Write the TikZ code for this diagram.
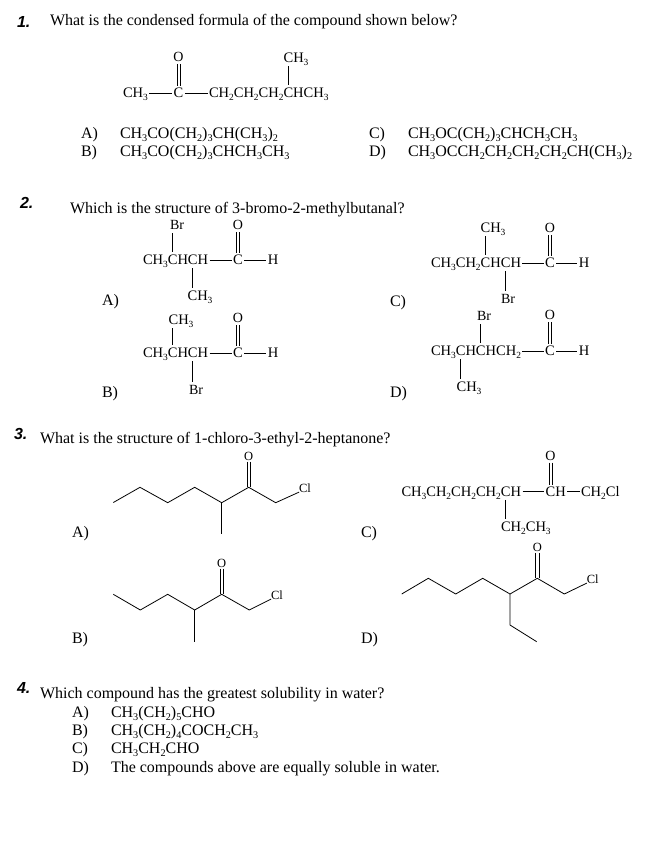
\documentclass[tikz,border=0pt]{standalone}
\usepackage{fontspec}
\setmainfont{Liberation Serif}
\newfontfamily\handfont{Liberation Sans}
\newcommand\su[1]{\raisebox{-0.2em}{\fontsize{10.2}{11}\selectfont #1}}
\newcommand\sv[1]{\raisebox{-0.2em}{\fontsize{9.4}{10}\selectfont #1}}
\newcommand\dbond[2]{\draw[db] ([xshift=-1.6pt]#1.south) -- ([xshift=-1.6pt]#2.north);\draw[db] ([xshift=1.6pt]#1.south) -- ([xshift=1.6pt]#2.north);}
\newcommand\sdbond[2]{\draw[skd] ([xshift=-1.6pt]#1.south) -- ([xshift=-1.6pt]#2);\draw[skd] ([xshift=1.6pt]#1.south) -- ([xshift=1.6pt]#2);}
\tikzset{
  txt/.style={anchor=base west,inner sep=0pt,outer sep=0pt,font=\fontsize{16}{18}\selectfont},
  num/.style={anchor=base west,inner sep=0pt,outer sep=0pt,font=\fontsize{16}{18}\selectfont\handfont\bfseries\itshape},
  atom/.style={inner sep=0pt,outer sep=0pt,text height=9.4pt,text depth=0pt,font=\fontsize{14.5}{16}\selectfont},
  mid/.style={inner sep=0pt,outer sep=0pt,text height=9pt,text depth=0pt,font=\fontsize{14}{16}\selectfont},
  small/.style={inner sep=0pt,outer sep=0pt,text height=8.2pt,text depth=0pt,font=\fontsize{12.5}{14}\selectfont},
  hb/.style={line width=0.8pt,shorten <=1.5pt,shorten >=1.5pt},
  vb/.style={line width=0.8pt,shorten <=3.5pt,shorten >=3.5pt},
  db/.style={line width=0.8pt,shorten <=2.5pt,shorten >=2pt},
  sk/.style={line width=0.8pt,line join=miter},
  skd/.style={line width=0.8pt,shorten <=1.5pt}
}
\begin{document}
\begin{tikzpicture}[x=1pt,y=-1pt]
\useasboundingbox (0,0) rectangle (655,851);
% ---- Question 1
\node[num] (n1) at (17,28) {1.};
\node[txt] (t1) at (50,26) {What is the condensed formula of the compound shown below?};
\node[atom,anchor=west] (a1) at (123,93) {CH\sv{3}};
\node[atom] (a2) at (178.5,93) {C};
\node[atom,anchor=west] (a3) at (209,93) {CH\sv{2}CH\sv{2}CH\sv{2}};
\node[atom,anchor=west] (a4) at (a3.east) {C};
\node[atom,anchor=west] (a5) at (a4.east) {HCH\sv{3}};
\node[mid] (a6) at (178.5,57) {O};
\node[atom] (a7) at (296,58) {CH\sv{3}};
\draw[hb] (a1.east) -- (a2.west);
\draw[hb] (a2.east) -- (a3.west);
\dbond{a6}{a2}
\draw[vb] (a4.north) -- (a4.north |- a7.south);
\node[txt] (o1a) at (81,138) {A)};
\node[txt] (f1a) at (120,138) {CH\su{3}CO(CH\su{2})\su{3}CH(CH\su{3})\su{2}};
\node[txt] (o1b) at (81,156) {B)};
\node[txt] (f1b) at (120,156) {CH\su{3}CO(CH\su{2})\su{3}CHCH\su{3}CH\su{3}};
\node[txt] (o1c) at (369,138) {C)};
\node[txt] (f1c) at (408,138) {CH\su{3}OC(CH\su{2})\su{3}CHCH\su{3}CH\su{3}};
\node[txt] (o1d) at (369,156) {D)};
\node[txt] (f1d) at (408,156) {CH\su{3}OCCH\su{2}CH\su{2}CH\su{2}CH\su{2}CH(CH\su{3})\su{2}};
% ---- Question 2
\node[num] (n2) at (20,208) {2.};
\node[txt] (t2) at (70,213) {Which is the structure of 3-bromo-2-methylbutanal?};
% A
\node[atom,anchor=west] (b1) at (143,260) {CH\sv{3}};
\node[atom,anchor=west] (b2) at (b1.east) {C};
\node[atom,anchor=west] (b3) at (b2.east) {H};
\node[atom,anchor=west] (b4) at (b3.east) {C};
\node[atom,anchor=west] (b5) at (b4.east) {H};
\node[atom] (b6) at (238,260) {C};
\node[atom] (b7) at (273,260) {H};
\node[mid] (b8) at (177,225) {Br};
\node[mid] (b9) at (238,225) {O};
\node[atom] (b10) at (200,296) {CH\sv{3}};
\draw[vb] (b2.north) -- (b2.north |- b8.south);
\draw[vb] (b4.south) -- (b4.south |- b10.north);
\draw[hb] (b5.east) -- (b6.west);
\draw[hb] (b6.east) -- (b7.west);
\dbond{b9}{b6}
\node[txt] (o2a) at (102,305) {A)};
% B
\node[atom,anchor=west] (c1) at (143,353) {CH\sv{3}};
\node[atom,anchor=west] (c2) at (c1.east) {C};
\node[atom,anchor=west] (c3) at (c2.east) {H};
\node[atom,anchor=west] (c4) at (c3.east) {C};
\node[atom,anchor=west] (c5) at (c4.east) {H};
\node[atom] (c6) at (238,353) {C};
\node[atom] (c7) at (273,353) {H};
\node[atom] (c8) at (181,320) {CH\sv{3}};
\node[mid] (c9) at (238,318) {O};
\node[mid] (c10) at (196,390) {Br};
\draw[vb] (c2.north) -- (c2.north |- c8.south);
\draw[vb] (c4.south) -- (c4.south |- c10.north);
\draw[hb] (c5.east) -- (c6.west);
\draw[hb] (c6.east) -- (c7.west);
\dbond{c9}{c6}
\node[txt] (o2b) at (102,397) {B)};
% C
\node[atom,anchor=west] (d1) at (431,263) {CH\sv{3}CH\sv{2}};
\node[atom,anchor=west] (d2) at (d1.east) {C};
\node[atom,anchor=west] (d3) at (d2.east) {H};
\node[atom,anchor=west] (d4) at (d3.east) {C};
\node[atom,anchor=west] (d5) at (d4.east) {H};
\node[atom] (d6) at (550,263) {C};
\node[atom] (d7) at (584,263) {H};
\node[atom] (d8) at (493,228) {CH\sv{3}};
\node[mid] (d9) at (550,228) {O};
\node[mid] (d10) at (508,299) {Br};
\draw[vb] (d2.north) -- (d2.north |- d8.south);
\draw[vb] (d4.south) -- (d4.south |- d10.north);
\draw[hb] (d5.east) -- (d6.west);
\draw[hb] (d6.east) -- (d7.west);
\dbond{d9}{d6}
\node[txt] (o2c) at (390,306) {C)};
% D
\node[atom,anchor=west] (e1) at (431,351) {CH\sv{3}};
\node[atom,anchor=west] (e2) at (e1.east) {C};
\node[atom,anchor=west] (e3) at (e2.east) {H};
\node[atom,anchor=west] (e4) at (e3.east) {C};
\node[atom,anchor=west] (e5) at (e4.east) {HCH\sv{2}};
\node[atom] (e6) at (550,351) {C};
\node[atom] (e7) at (584,351) {H};
\node[mid] (e8) at (484,316) {Br};
\node[mid] (e9) at (550,315) {O};
\node[atom] (e10) at (469,387) {CH\sv{3}};
\draw[vb] (e4.north) -- (e4.north |- e8.south);
\draw[vb] (e2.south) -- (e2.south |- e10.north);
\draw[hb] (e5.east) -- (e6.west);
\draw[hb] (e6.east) -- (e7.west);
\dbond{e9}{e6}
\node[txt] (o2d) at (390,397) {D)};
% ---- Question 3
\node[num] (n3) at (14,439) {3.};
\node[txt] (t3) at (40,443) {What is the structure of 1-chloro-3-ethyl-2-heptanone?};
% A
\coordinate (f1) at (113.3,502.5);
\coordinate (f2) at (140,487.3);
\coordinate (f3) at (167.7,502.7);
\coordinate (f4) at (194.7,487.3);
\coordinate (f5) at (221.7,502.7);
\coordinate (f6) at (248.7,487.3);
\coordinate (f7) at (275.7,502.7);
\coordinate (f8) at (221.7,534.3);
\node[small] (fo) at (248.7,456) {O};
\node[small] (fc) at (305,488) {Cl};
\draw[sk] (f1) -- (f2) -- (f3) -- (f4) -- (f5) -- (f6) -- (f7) -- (fc.south west);
\draw[sk] (f5) -- (f8);
\sdbond{fo}{f6}
\node[txt] (o3a) at (72,537) {A)};
% B
\coordinate (g1) at (113.3,594.3);
\coordinate (g2) at (140.3,610);
\coordinate (g3) at (167.7,594.3);
\coordinate (g4) at (194.7,610);
\coordinate (g5) at (221.7,594.3);
\coordinate (g6) at (249.3,610);
\coordinate (g7) at (194.7,641.7);
\node[small] (go) at (221.7,563) {O};
\node[small] (gc) at (277,595) {Cl};
\draw[sk] (g1) -- (g2) -- (g3) -- (g4) -- (g5) -- (g6) -- (gc.south west);
\draw[sk] (g4) -- (g7);
\sdbond{go}{g5}
\node[txt] (o3b) at (72,643) {B)};
% C
\node[atom,anchor=west] (h1) at (401.5,491.7) {CH\sv{3}CH\sv{2}CH\sv{2}CH\sv{2}};
\node[atom,anchor=west] (h2) at (h1.east) {C};
\node[atom,anchor=west] (h3) at (h2.east) {H};
\node[atom] (h4) at (550.5,491.7) {C};
\node[atom,anchor=west] (h5) at (h4.east) {H};
\node[atom,anchor=west] (h6) at (581,491.7) {CH\sv{2}Cl};
\node[mid] (h7) at (550.5,455.7) {O};
\node[atom,anchor=west] (h8) at (501,527) {CH\sv{2}CH\sv{3}};
\draw[hb] (h3.east) -- (h4.west);
\draw[hb] (h5.east) -- (h6.west);
\dbond{h7}{h4}
\draw[vb] (h2.south) -- (h2.south |- h8.north);
\node[txt] (o3c) at (361,537) {C)};
% D
\coordinate (j1) at (401.7,594);
\coordinate (j2) at (428.3,578.3);
\coordinate (j3) at (455.7,594);
\coordinate (j4) at (482.7,578.3);
\coordinate (j5) at (510,594);
\coordinate (j6) at (537.3,578.3);
\coordinate (j7) at (564.3,594);
\coordinate (j8) at (510,625);
\coordinate (j9) at (536.7,641.7);
\node[small] (jo) at (537.3,547.3) {O};
\node[small] (jc) at (592.7,579) {Cl};
\draw[sk] (j1) -- (j2) -- (j3) -- (j4) -- (j5) -- (j6) -- (j7) -- (jc.south west);
\draw[sk] (j5) -- (j8) -- (j9);
\sdbond{jo}{j6}
\node[txt] (o3d) at (361,643) {D)};
% ---- Question 4
\node[num] (n4) at (17,693) {4.};
\node[txt] (t4) at (40,698) {Which compound has the greatest solubility in water?};
\node[txt] (o4a) at (72,717) {A)};
\node[txt] (f4a) at (111,717) {CH\su{3}(CH\su{2})\su{5}CHO};
\node[txt] (o4b) at (72,735) {B)};
\node[txt] (f4b) at (111,735) {CH\su{3}(CH\su{2})\su{4}COCH\su{2}CH\su{3}};
\node[txt] (o4c) at (72,753) {C)};
\node[txt] (f4c) at (111,753) {CH\su{3}CH\su{2}CHO};
\node[txt] (o4d) at (72,772) {D)};
\node[txt] (f4d) at (111,772) {The compounds above are equally soluble in water.};
\end{tikzpicture}
\end{document}
